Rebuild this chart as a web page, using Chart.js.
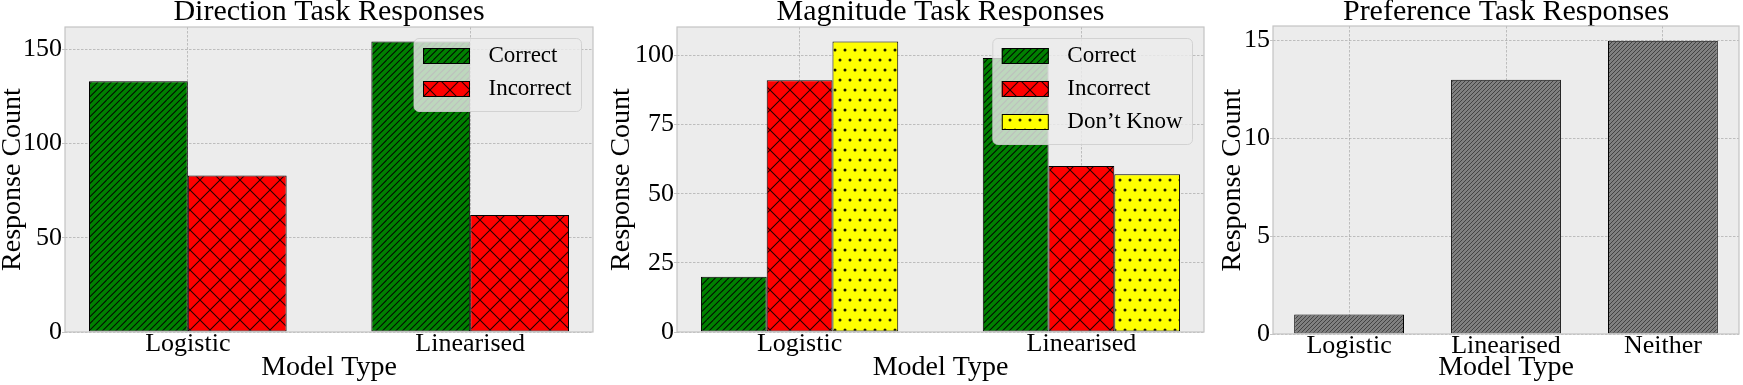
<!DOCTYPE html>
<html>
<head>
<meta charset="utf-8">
<script src="https://cdn.jsdelivr.net/npm/chart.js@4.4.1/dist/chart.umd.min.js"></script>
<style>
    body { margin: 0; background: #fff; width: 1743px; height: 385px; overflow: hidden; position: relative; }
    canvas { position: absolute; top: 0; }
</style>
</head>
<body>
<canvas id="chart1" width="600" height="385" style="left:0px"></canvas>
<canvas id="chart2" width="610" height="385" style="left:600px"></canvas>
<canvas id="chart3" width="533" height="385" style="left:1210px"></canvas>
<script>
// Data
const modelTypes = ['Logistic', 'Linearised'];
const preferenceOptions = ['Logistic', 'Linearised', 'Neither'];

const directionCorrect = [133, 154];
const directionIncorrect = [83, 62];

const magnitudeCorrect = [20, 99];
const magnitudeIncorrect = [91, 60];
const magnitudeDontKnow = [105, 57];

const preferenceCounts = [1, 13, 15];

const directionTickStep = 50;
const magnitudeTickStep = 25;
const preferenceTickStep = 5;

Chart.defaults.font.family = '"Liberation Serif", "Times New Roman", serif';
Chart.defaults.font.size = 26;
Chart.defaults.color = '#000';

// Hatch patterns (tile of 20px)
const makeHatch = (bg, draw, ink = 'rgba(0,0,0,0.85)', lw = 1.1) => {
    const tile = document.createElement('canvas');
    tile.width = tile.height = 20;
    const g = tile.getContext('2d');
    g.fillStyle = bg;
    g.fillRect(0, 0, 20, 20);
    g.strokeStyle = ink;
    g.fillStyle = ink;
    g.lineWidth = lw;
    draw(g);
    return g.createPattern(tile, 'repeat');
};
const slashes = n => g => {
    const s = 20 / n;
    g.beginPath();
    for (let k = -n; k <= n; k++) { g.moveTo(k * s, 20); g.lineTo(k * s + 20, 0); }
    g.stroke();
};
const crosses = g => {
    g.beginPath();
    for (let k = -1; k <= 1; k++) {
        g.moveTo(k * 20, 20); g.lineTo(k * 20 + 20, 0);
        g.moveTo(k * 20, 0); g.lineTo(k * 20 + 20, 20);
    }
    g.stroke();
};
const dots = g => {
    const pts = [[0, 0], [10, 0], [20, 0], [5, 10], [15, 10], [0, 20], [10, 20], [20, 20]];
    pts.forEach(([x, y]) => { g.beginPath(); g.arc(x, y, 1.5, 0, Math.PI * 2); g.fill(); });
};

const greenHatch = makeHatch('#008000', slashes(3));
const redHatch = makeHatch('#ff0000', crosses);
const yellowHatch = makeHatch('#ffff00', dots, 'rgba(0,0,0,0.9)');
const grayHatch = makeHatch('#808080', slashes(5), 'rgba(0,0,0,0.6)', 0.8);

// Axes background + frame, and the legend box
const framePlugin = {
    id: 'frame',
    beforeDraw(chart) {
        const { ctx, chartArea: a } = chart;
        ctx.save();
        ctx.fillStyle = '#ececec';
        ctx.fillRect(a.left, a.top, a.right - a.left, a.bottom - a.top);
        ctx.restore();
    },
    afterDraw(chart) {
        const { ctx, chartArea: a } = chart;
        ctx.save();
        ctx.strokeStyle = '#c4c4c4';
        ctx.lineWidth = 1.2;
        ctx.strokeRect(a.left, a.top, a.right - a.left, a.bottom - a.top);
        ctx.restore();
    }
};

const hatchLegend = {
    id: 'hatchLegend',
    afterDraw(chart, args, opts) {
        if (!opts.show) return;
        const { ctx, chartArea: a } = chart;
        const sets = chart.data.datasets;
        ctx.save();
        ctx.font = '23px "Liberation Serif", serif';
        const textW = Math.max(...sets.map(d => ctx.measureText(d.label).width));
        const w = 74.5 + textW + 10;
        const h = 40 + 33 * (sets.length - 1);
        const x0 = a.right - 11.5 - w;
        const y0 = a.top + 11.5;
        ctx.beginPath();
        ctx.roundRect(x0, y0, w, h, 5);
        ctx.fillStyle = 'rgba(236,236,236,0.8)';
        ctx.fill();
        ctx.strokeStyle = 'rgba(204,204,204,0.8)';
        ctx.lineWidth = 1;
        ctx.stroke();
        sets.forEach((d, i) => {
            const cy = y0 + 17.5 + 33 * i;
            ctx.fillStyle = d.backgroundColor;
            ctx.fillRect(x0 + 9, cy - 8, 47, 16);
            ctx.strokeStyle = '#000';
            ctx.strokeRect(x0 + 9.5, cy - 7.5, 46, 15);
            ctx.fillStyle = '#000';
            ctx.textBaseline = 'middle';
            ctx.fillText(d.label, x0 + 74.5, cy);
        });
        ctx.restore();
    }
};

const gridStyle = { color: 'rgba(150,150,150,0.7)', lineWidth: 0.8 };
const dashStyle = { display: false, dash: [2.5, 1.5] };

const createChart = (id, cfg) => {
    const n = cfg.categories.length;
    const xPad = 0.05 * (n - 1 + 0.7);
    const allValues = cfg.datasets.flatMap(d => d.values);
    const yMax = Math.max(...allValues) * 1.05;

    new Chart(document.getElementById(id), {
        type: 'bar',
        data: {
            datasets: cfg.datasets.map(d => ({
                label: d.label,
                data: d.values.map((v, i) => ({ x: i, y: v })),
                backgroundColor: d.pattern,
                borderColor: '#000',
                borderWidth: 1,
                borderSkipped: false,
                categoryPercentage: 0.7,
                barPercentage: 1
            }))
        },
        plugins: [framePlugin, hatchLegend],
        options: {
            responsive: false,
            animation: false,
            layout: { padding: { left: 0, right: cfg.rightPad, top: 0, bottom: 0 } },
            scales: {
                x: {
                    type: 'linear',
                    min: -0.35 - xPad,
                    max: n - 1 + 0.35 + xPad,
                    offset: false,
                    z: 1,
                    grid: { ...gridStyle, offset: false, drawTicks: false },
                    border: dashStyle,
                    ticks: {
                        stepSize: 1,
                        includeBounds: false,
                        autoSkip: false,
                        maxRotation: 0,
                        padding: 0,
                        font: { size: 26, lineHeight: 0.9 },
                        callback: v => cfg.categories[v]
                    },
                    title: {
                        display: true,
                        text: 'Model Type',
                        font: { size: 28, lineHeight: 1 },
                        padding: { top: 0, bottom: 3.5 }
                    },
                    afterFit: s => { s.height = 385 - cfg.plotBottom; }
                },
                y: {
                    min: 0,
                    max: yMax,
                    z: 1,
                    grid: { ...gridStyle, drawTicks: true, tickLength: 3 },
                    border: dashStyle,
                    ticks: {
                        stepSize: cfg.tickStep,
                        includeBounds: false,
                        padding: 0,
                        font: { size: 26 }
                    },
                    title: {
                        display: true,
                        text: 'Response Count',
                        font: { size: 28, lineHeight: 1 },
                        padding: { top: cfg.yTitlePad, bottom: 0 }
                    },
                    afterFit: s => { s.width = cfg.yAxisWidth; }
                }
            },
            plugins: {
                legend: { display: false },
                tooltip: { enabled: false },
                hatchLegend: { show: cfg.legend },
                title: {
                    display: true,
                    text: cfg.title,
                    fullSize: false,
                    color: '#000',
                    font: { size: 30, weight: 'normal', lineHeight: 0.8 },
                    padding: { top: 0, bottom: cfg.plotTop - 24 }
                }
            }
        }
    });
};

window.onload = () => {
    createChart('chart1', {
        title: 'Direction Task Responses',
        categories: modelTypes,
        datasets: [
            { label: 'Correct', values: directionCorrect, pattern: greenHatch },
            { label: 'Incorrect', values: directionIncorrect, pattern: redHatch }
        ],
        tickStep: directionTickStep,
        legend: true,
        yAxisWidth: 65, rightPad: 7, plotTop: 27, plotBottom: 332, yTitlePad: -1.5
    });
    createChart('chart2', {
        title: 'Magnitude Task Responses',
        categories: modelTypes,
        datasets: [
            { label: 'Correct', values: magnitudeCorrect, pattern: greenHatch },
            { label: 'Incorrect', values: magnitudeIncorrect, pattern: redHatch },
            { label: 'Don\u2019t Know', values: magnitudeDontKnow, pattern: yellowHatch }
        ],
        tickStep: magnitudeTickStep,
        legend: true,
        yAxisWidth: 77, rightPad: 6, plotTop: 27, plotBottom: 332, yTitlePad: 7.5
    });
    createChart('chart3', {
        title: 'Preference Task Responses',
        categories: preferenceOptions,
        datasets: [
            { label: 'Responses', values: preferenceCounts, pattern: grayHatch }
        ],
        tickStep: preferenceTickStep,
        legend: false,
        yAxisWidth: 63, rightPad: 4, plotTop: 26, plotBottom: 334, yTitlePad: 8.3
    });
};
</script>
</body>
</html>
